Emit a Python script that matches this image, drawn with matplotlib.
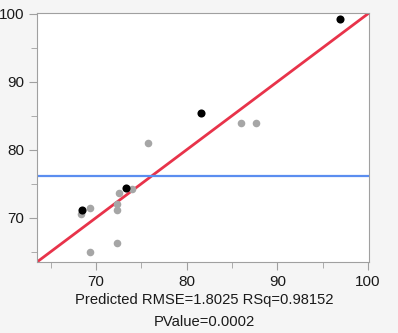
import matplotlib.pyplot as plt
import numpy as np

plt.rcParams["font.family"] = ["Liberation Sans", "DejaVu Sans"]

pred_gray = [75.7, 86.0, 87.6, 68.3, 69.3, 72.5, 72.3, 72.3, 72.3, 69.3, 74.0]
actual_gray = [81.0, 84.0, 83.9, 70.5, 71.5, 73.7, 72.0, 71.2, 66.3, 65.0, 74.3]
pred_black = [68.5, 73.3, 81.6, 96.9]
actual_black = [71.1, 74.4, 85.4, 99.2]
mean_actual = 76.16

lo, hi = 63.5, 100.1
major = [70, 80, 90, 100]
minor = [65, 75, 85, 95]

fig = plt.figure(figsize=(3.98, 3.33), dpi=100, facecolor="#f5f5f5")
ax = fig.add_axes([37 / 398, 1 - 262 / 333, 332 / 398, 249 / 333])
ax.set_facecolor("white")

ax.plot([lo, hi], [lo, hi], color="#e8334a", lw=2, zorder=2)
ax.axhline(mean_actual, color="#5b8ef0", lw=1.6, zorder=2)
ax.scatter(pred_gray, actual_gray, s=30, color="#a6a6a6", linewidths=0, zorder=3)
ax.scatter(pred_black, actual_black, s=34, color="black", linewidths=0, zorder=4)

ax.set_xlim(lo, hi)
ax.set_ylim(lo, hi)
ax.set_xticks(major)
ax.set_yticks(major)
ax.set_xticks(minor, minor=True)
ax.set_yticks(minor, minor=True)
for s in ax.spines.values():
    s.set_color("#a0a0a0")
ax.tick_params(which="major", length=6, color="#a0a0a0", labelsize=11,
               labelcolor="#1a1a1a", pad=3)
ax.tick_params(which="minor", length=4, color="#a0a0a0")

fig.text(204 / 398, 1 - 300 / 333, "Predicted RMSE=1.8025 RSq=0.98152",
         ha="center", va="center", fontsize=10.6, color="#1a1a1a")
fig.text(204 / 398, 1 - 322 / 333, "PValue=0.0002",
         ha="center", va="center", fontsize=10.6, color="#1a1a1a")

fig.savefig("out.png", dpi=100, facecolor=fig.get_facecolor())
